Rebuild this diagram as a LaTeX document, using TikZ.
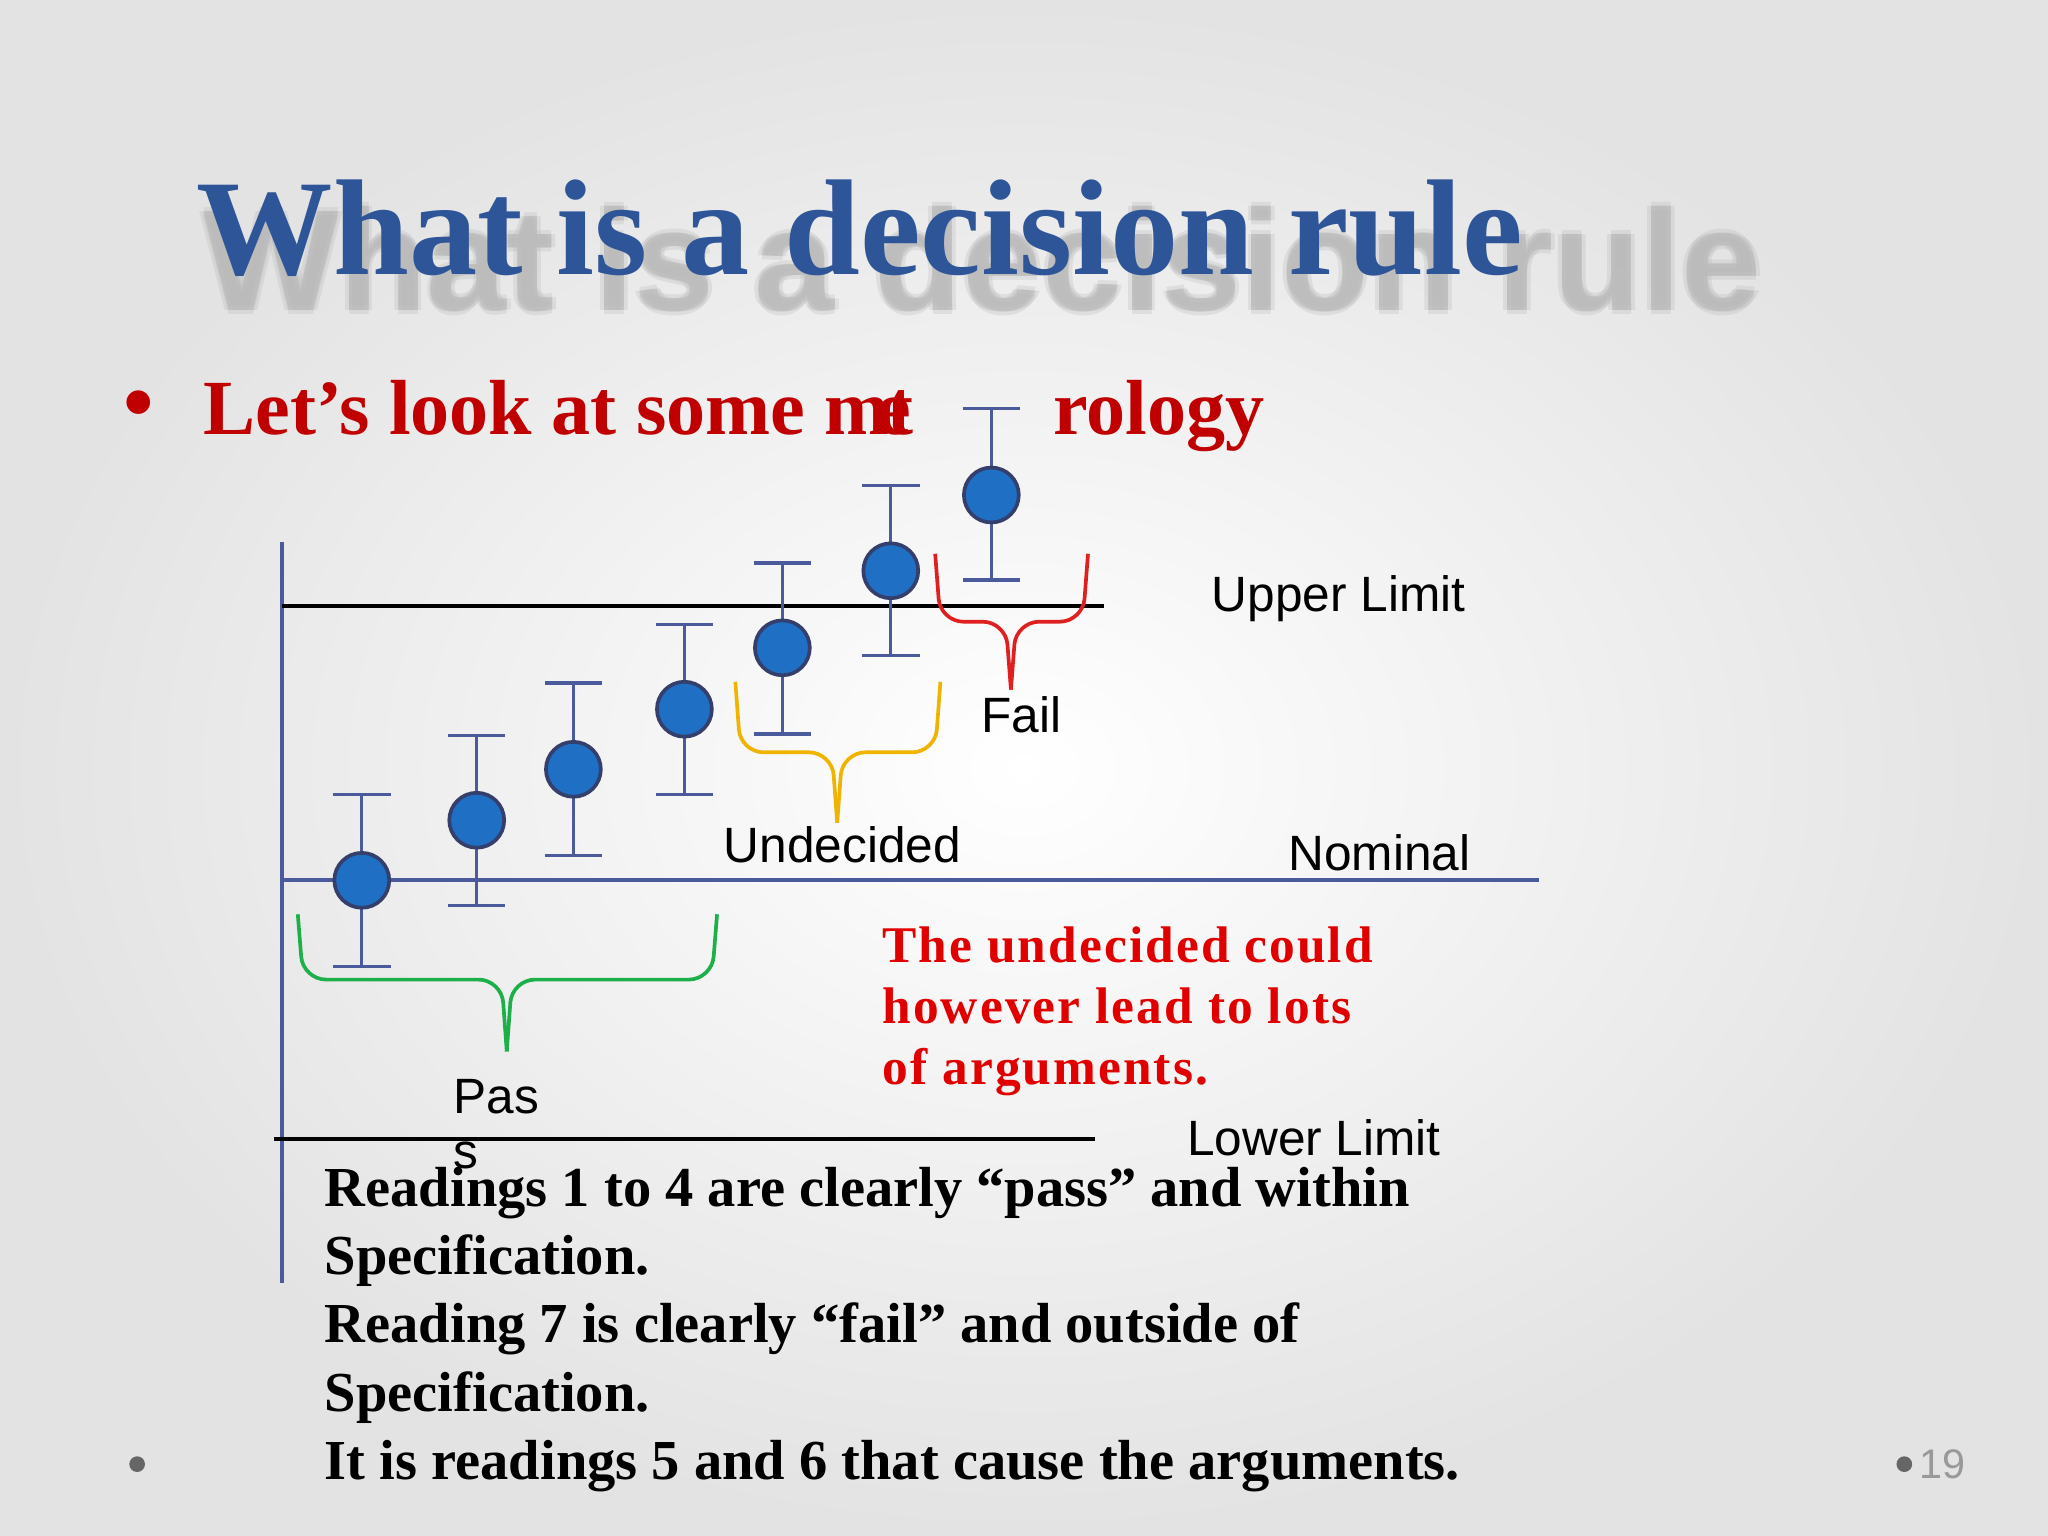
\documentclass[tikz,border=0pt]{standalone}
\usepackage{fontspec}
\setmainfont{Liberation Serif}
\newfontfamily\arial{Liberation Sans}
\definecolor{titleblue}{HTML}{2E5597}
\definecolor{axisblue}{HTML}{4A5A9A}
\definecolor{dotblue}{HTML}{1F6FC5}
\definecolor{bulletred}{HTML}{C00000}
\definecolor{notered}{HTML}{E00000}
\definecolor{bracegreen}{HTML}{1DAF4A}
\definecolor{braceyellow}{HTML}{F0B400}
\definecolor{bracered}{HTML}{E02020}
\begin{document}
\begin{tikzpicture}[x=0.01cm,y=-0.01cm,
  lbl/.style={font=\arial\fontsize{10.8}{13}\selectfont, inner sep=0pt},
  bar/.style={draw=axisblue, line width=0.7pt},
  dot/.style={circle, fill=dotblue, draw=axisblue!70!black, line width=0.8pt, minimum size=0.42cm, inner sep=0pt},
  brc/.style={line width=0.8pt, rounded corners=5pt},
  bul/.style={text=bulletred, font=\bfseries\fontsize{17}{20}\selectfont, inner sep=0pt, anchor=base west},
  body/.style={font=\bfseries\fontsize{12.3}{15}\selectfont, inner sep=0pt, anchor=base west}]
\useasboundingbox (0,0) rectangle (1568,1176);
\shade[inner color=white, outer color=gray!22] (0,0) rectangle (1568,1176);
% title shadow and title
\foreach \dx/\dy in {-3/0,3/0,0/-3,0/3}{
\node[anchor=base west, inner sep=0pt, text=gray!60, opacity=0.25, font=\arial\bfseries\fontsize{31.3}{34}\selectfont] at (155+\dx,238+\dy) {What is a decision rule};}
\node[anchor=base west, inner sep=0pt, text=gray!55, opacity=0.6, font=\arial\bfseries\fontsize{31.3}{34}\selectfont] (tshadow) at (155,238) {What is a decision rule};
\node[anchor=base west, inner sep=0pt, text=titleblue, font=\bfseries\fontsize{29.7}{33}\selectfont] (title) at (150,210) {What is a decision rule};
% bullet line
\node[text=bulletred, font=\bfseries\fontsize{19}{22}\selectfont, inner sep=0pt] (bull) at (106,315) {•};
\node[bul] (b1) at (155,333) {Let’s look at some m};
\node[bul] (b2) at (670,333) {e};
\node[bul] (b3) at (679,333) {t};
\node[bul] (b4) at (806,333) {rology};
% axes
\coordinate (vt) at (216,415); \coordinate (vb) at (216,982);
\draw[axisblue, line width=0.8pt] (vt) -- (vb);
\coordinate (ul1) at (216,464); \coordinate (ul2) at (845,464);
\draw[black, line width=0.8pt] (ul1) -- (ul2);
\coordinate (nl1) at (216,674); \coordinate (nl2) at (1178,674);
\draw[axisblue, line width=0.8pt] (nl1) -- (nl2);
\coordinate (ll1) at (210,872); \coordinate (ll2) at (838,872);
\draw[black, line width=0.8pt] (ll1) -- (ll2);
% error bars and dots
\foreach \i/\x/\y/\t/\b in {1/277/674/608/740, 2/365/628/563/693, 3/439/589/523/655, 4/524/543/478/608, 5/599/496/431/562, 6/682/437/372/502, 7/759/379/313/444}{
  \coordinate (t\i) at (\x,\t); \coordinate (b\i) at (\x,\b);
  \draw[bar] (t\i) -- (b\i);
  \draw[bar] ([xshift=-0.22cm]t\i) -- ([xshift=0.22cm]t\i);
  \draw[bar] ([xshift=-0.22cm]b\i) -- ([xshift=0.22cm]b\i);
  \node[dot] (p\i) at (\x,\y) {};
}
% braces
\draw[brc, bracegreen] (228,700) -- (232,750) -- (384,750) -- (388,805);
\draw[brc, bracegreen] (549,700) -- (545,750) -- (392,750) -- (388,805);
\draw[brc, braceyellow] (563,522) -- (567,576) -- (637,576) -- (641,630);
\draw[brc, braceyellow] (720,522) -- (716,576) -- (645,576) -- (641,630);
\draw[brc, bracered] (716,424) -- (720,476) -- (770,476) -- (774,528);
\draw[brc, bracered] (833,424) -- (829,476) -- (778,476) -- (774,528);
% labels
\node[lbl] (lup) at (1025,458) {Upper Limit};
\node[lbl] (lfail) at (782,547) {Fail};
\node[lbl] (lund) at (645,647) {Undecided};
\node[lbl] (lnom) at (1056,653) {Nominal};
\node[lbl] (llow) at (1006,871) {Lower Limit};
\node[lbl] (lpas) at (380,840) {Pas};
\node[lbl] (lpas2) at (357,885) {s};
% red note
\node[anchor=north west, align=left, text=notered, inner sep=0pt,
  font=\bfseries\addfontfeature{LetterSpace=4}\fontsize{11.2}{13.3}\selectfont] (note) at (675,709)
  {The undecided could\\however lead to lots\\of arguments.};
% body text
\node[body] (r1) at (248,924) {Readings 1 to 4 are clearly “pass” and within};
\node[body] (r2) at (248,976) {Specification.};
\node[body] (r3) at (248,1028) {Reading 7 is clearly “fail” and outside of};
\node[body] (r4) at (248,1081) {Specification.};
\node[body] (r5) at (248,1133) {It is readings 5 and 6 that cause the arguments.};
% footer
\fill[gray!80!black] (105,1121) circle (6);
\fill[gray!80!black] (1458,1121) circle (6);
\node[font=\arial\fontsize{9}{11}\selectfont, text=gray!80, inner sep=0pt] (pg) at (1487,1121) {19};
\end{tikzpicture}
\end{document}
